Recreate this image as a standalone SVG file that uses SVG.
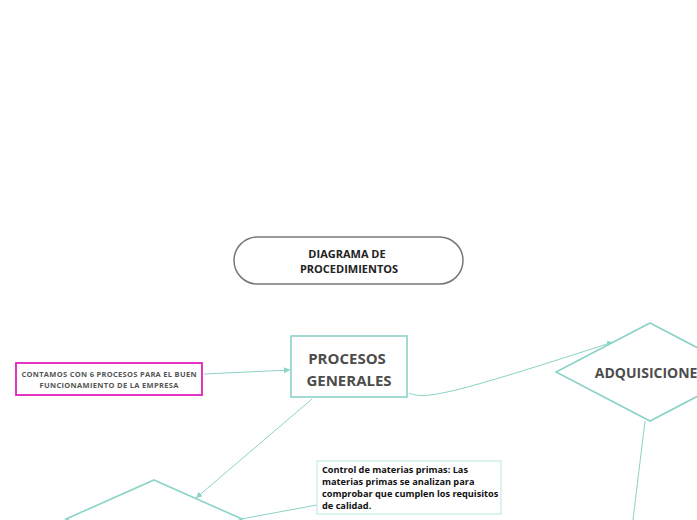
<svg xmlns="http://www.w3.org/2000/svg" width="697" height="520" viewBox="0 0 697 520">
<defs>
<style>
.t{font-family:"Open Sans","Noto Sans","Liberation Sans",sans-serif;font-weight:bold}
.teal{fill:#ffffff;stroke:#8ad3c6;stroke-width:1.6}
.con{fill:none;stroke:#8ad3c6;stroke-width:1}
</style>
<marker id="ah" markerWidth="8" markerHeight="8" refX="6" refY="3" orient="auto" markerUnits="userSpaceOnUse">
<path d="M0,0 L6,3 L0,6 z" fill="#8ad3c6"/>
</marker>
</defs>
<rect width="697" height="520" fill="#ffffff"/>
<g id="connectors">
<path class="con" d="M204,374 L290,370" marker-end="url(#ah)"/>
<path class="con" d="M409,393 C425,400 450,395 613,342" marker-end="url(#ah)"/>
<path class="con" d="M312,399 L196,498" marker-end="url(#ah)"/>
<path class="con" d="M645,421 L633,520"/>
<path class="con" d="M317,505 L241,519"/>
</g>
<g id="title">
<rect x="234" y="237" width="229" height="47" rx="23.5" fill="#ffffff" stroke="#777777" stroke-width="1.5"/>
<text class="t" x="347" y="258" font-size="11" text-anchor="middle" fill="#222222">DIAGRAMA DE</text>
<text class="t" x="349" y="273" font-size="11" text-anchor="middle" fill="#222222">PROCEDIMIENTOS</text>
</g>
<g id="procesos-generales">
<rect class="teal" x="291" y="336" width="116" height="61"/>
<text class="t" x="347" y="364" font-size="15" text-anchor="middle" fill="#4d4d4d">PROCESOS</text>
<text class="t" x="349" y="386" font-size="15" text-anchor="middle" fill="#4d4d4d">GENERALES</text>
</g>
<g id="nota-procesos">
<rect x="16" y="363" width="186" height="32" fill="#ffffff" stroke="#e020b8" stroke-width="1.8"/>
<text class="t" x="109" y="377" font-size="7.5" text-anchor="middle" fill="#555555" textLength="175" lengthAdjust="spacing">CONTAMOS CON 6 PROCESOS PARA EL BUEN</text>
<text class="t" x="109" y="388" font-size="7.5" text-anchor="middle" fill="#555555" textLength="139" lengthAdjust="spacing">FUNCIONAMIENTO DE LA EMPRESA</text>
</g>
<g id="adquisiciones">
<polygon class="teal" points="650,323 744,372 650,421 556,372"/>
<text class="t" x="650" y="378" font-size="14" text-anchor="middle" fill="#4d4d4d">ADQUISICIONES</text>
</g>
<g id="diamante-inferior">
<polygon class="teal" points="154,480 242,519 154,558 66,519"/>
</g>
<g id="control-materias">
<rect x="317" y="461" width="184" height="53" fill="#ffffff" stroke="#c6eae3" stroke-width="1.2"/>
<text class="t" font-size="9.2" fill="#111111">
<tspan x="322" y="473">Control de materias primas: Las</tspan>
<tspan x="322" y="485">materias primas se analizan para</tspan>
<tspan x="322" y="497">comprobar que cumplen los requisitos</tspan>
<tspan x="322" y="509">de calidad.</tspan>
</text>
</g>
</svg>
